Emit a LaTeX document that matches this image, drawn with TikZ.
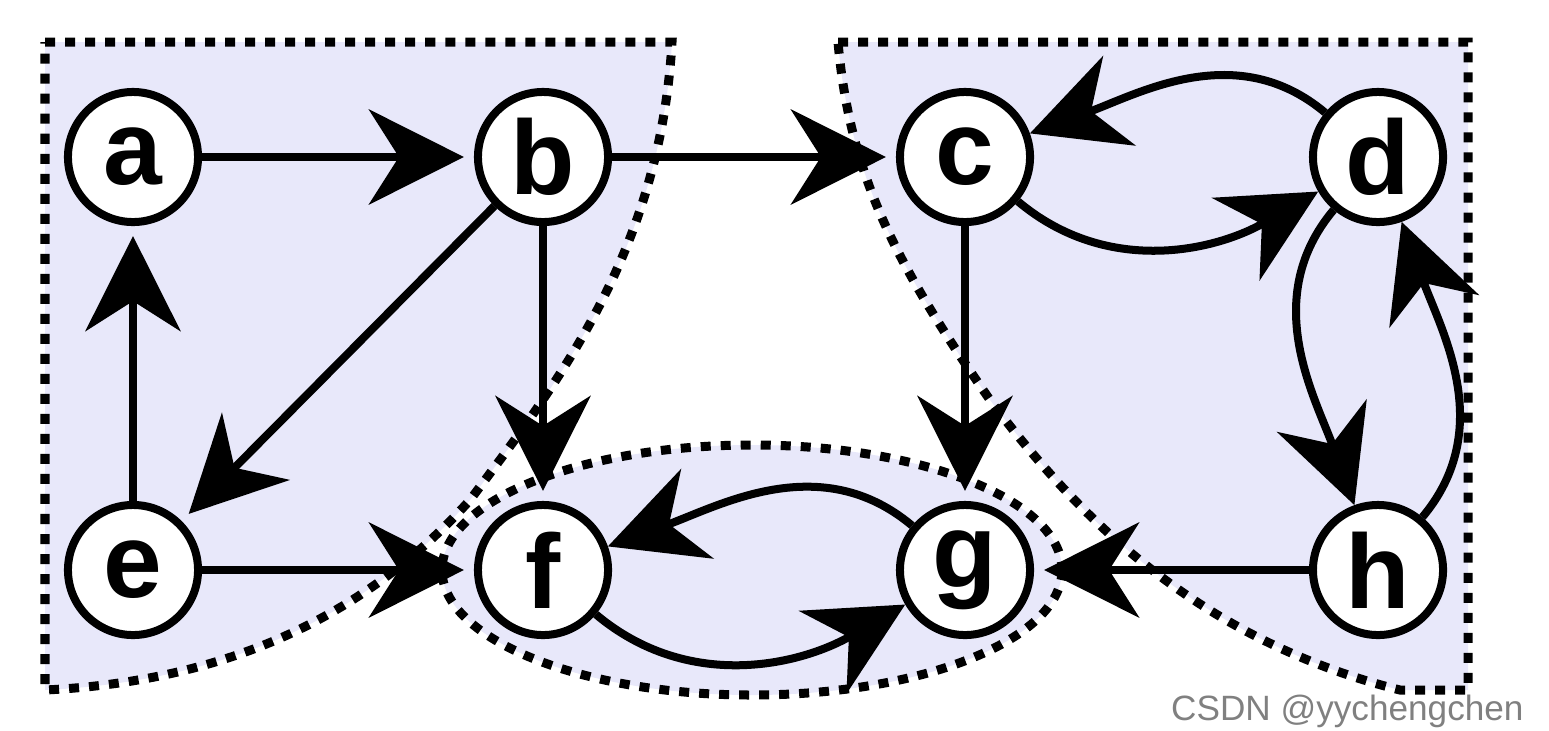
\documentclass[tikz,border=0pt]{standalone}
\usepackage{fontspec}
\setmainfont{Liberation Sans}
\usetikzlibrary{arrows.meta}
\begin{document}
\begin{tikzpicture}[x=0.01cm,y=-0.01cm,
  v/.style={circle,draw,fill=white,line width=0.08cm,minimum size=1.30cm,inner sep=0pt,font=\fontsize{30}{30}\selectfont\bfseries},
  e/.style={line width=0.08cm,-{Stealth[length=0.95cm,width=0.95cm,inset=0.3cm]}},
  reg/.style={fill={rgb,255:red,232;green,232;blue,250},draw=black,line width=0.09cm,dash pattern=on 0.1cm off 0.1cm}]
\useasboundingbox (0,0) rectangle (1549,730);
\path[reg] (45,42) -- (672,42) .. controls (660,250) and (560,380) .. (470,500) .. controls (380,600) and (250,680) .. (45,690) -- cycle;
\path[reg] (838,42) -- (1468,42) -- (1468,690) -- (1400,690) .. controls (1200,640) and (1080,520) .. (990,400) .. controls (900,270) and (850,180) .. (838,42);
\path[reg] (752,570) ellipse [x radius=310, y radius=125];
\node[v] (a) at (133,157) {a};
\node[v] (b) at (543,157) {b};
\node[v] (c) at (965,157) {c};
\node[v] (d) at (1378,157) {d};
\node[v] (e) at (133,570) {e};
\node[v] (f) at (543,570) {f};
\node[v] (g) at (965,570) {g};
\node[v] (h) at (1378,570) {h};
\begin{scope}[shorten >=0.1cm]
\draw[e] (a) -- (b);
\draw[e] (b) -- (c);
\draw[e] (b) -- (f);
\draw[e] (b) -- (e);
\draw[e] (e) -- (a);
\draw[e] (e) -- (f);
\draw[e] (c) -- (g);
\draw[e] (h) -- (g);
\end{scope}
\draw[e] (c) to[out=-40,in=210] (d);
\draw[e] (d) to[out=140,in=20] (c);
\draw[e] (d) to[out=230,in=110] (h);
\draw[e] (h) to[out=50,in=-70] (d);
\draw[e] (f) to[out=-40,in=210] (g);
\draw[e] (g) to[out=140,in=20] (f);
\node[font=\fontsize{10}{10}\selectfont,text=gray,anchor=east] at (1536,711) {CSDN @yychengchen};
\end{tikzpicture}
\end{document}
